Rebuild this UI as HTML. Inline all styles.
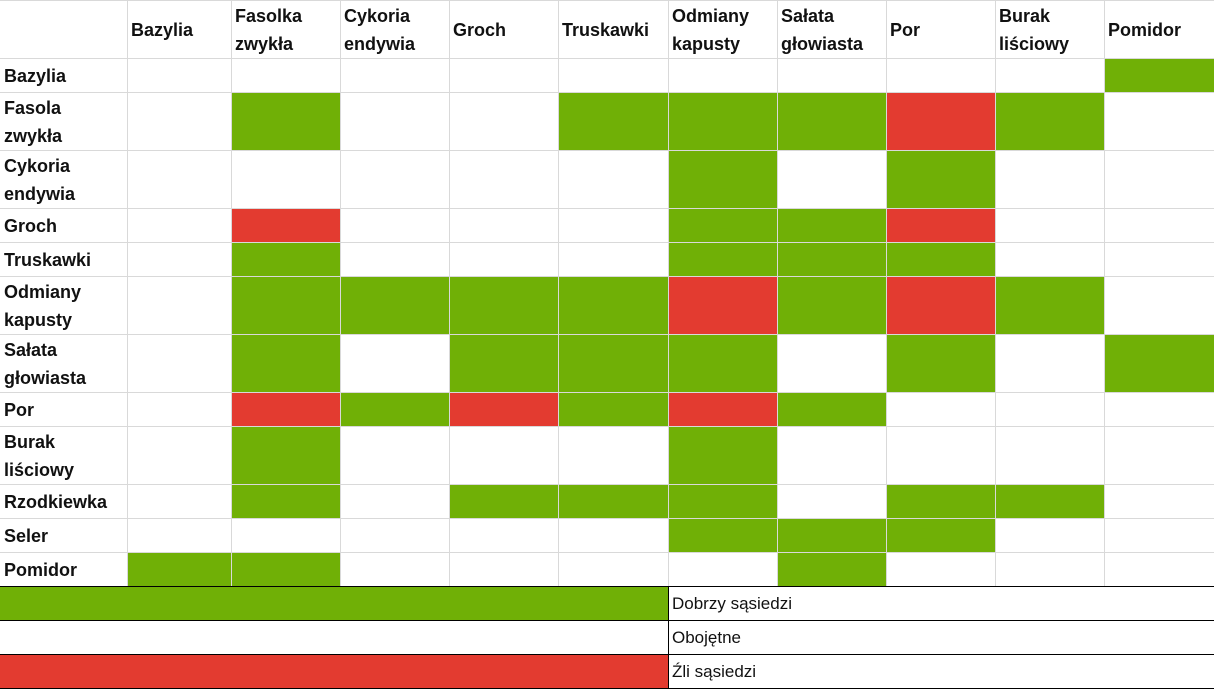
<!DOCTYPE html><html><head><meta charset="utf-8"><style>
body{margin:0;width:1214px;height:690px;overflow:hidden;background:#fff;font-family:"Liberation Sans",sans-serif}
.grid{position:absolute;left:0;top:0;width:1214px;height:585px;padding-top:1px;background:#d9d9d9;display:grid;gap:1px;
grid-template-columns:127px 103px 108px 108px 108px 109px 108px 108px 108px 108px 109px;
grid-template-rows:57px 33px 57px 57px 33px 33px 57px 57px 33px 57px 33px 33px 33px}
.grid div{background:#fff;display:flex;align-items:center;padding-left:3px;font-weight:bold;font-size:18px;line-height:28px;color:#111;white-space:nowrap;overflow:hidden}
.grid div.f{padding-left:4px}
.grid div.g{background:#70b006}.grid div.r{background:#e33b30}
.leg{position:absolute;left:0;width:1214px;height:34px;border-top:1px solid #000;box-sizing:border-box;background:#fff}
.leg div{position:absolute;left:0;top:0;width:668px;height:33px;border-right:1px solid #000}
.leg .g{background:#70b006}.leg .r{background:#e33b30}
.leg span{position:absolute;left:672px;top:7px;font-size:17px;color:#111}
</style></head><body>
<div class="grid">
<div></div><div>Bazylia</div><div>Fasolka<br>zwykła</div><div>Cykoria<br>endywia</div><div>Groch</div><div>Truskawki</div><div>Odmiany<br>kapusty</div><div>Sałata<br>głowiasta</div><div>Por</div><div>Burak<br>liściowy</div><div>Pomidor</div>
<div class="f">Bazylia</div><div></div><div></div><div></div><div></div><div></div><div></div><div></div><div></div><div></div><div class="g"></div>
<div class="f">Fasola<br>zwykła</div><div></div><div class="g"></div><div></div><div></div><div class="g"></div><div class="g"></div><div class="g"></div><div class="r"></div><div class="g"></div><div></div>
<div class="f">Cykoria<br>endywia</div><div></div><div></div><div></div><div></div><div></div><div class="g"></div><div></div><div class="g"></div><div></div><div></div>
<div class="f">Groch</div><div></div><div class="r"></div><div></div><div></div><div></div><div class="g"></div><div class="g"></div><div class="r"></div><div></div><div></div>
<div class="f">Truskawki</div><div></div><div class="g"></div><div></div><div></div><div></div><div class="g"></div><div class="g"></div><div class="g"></div><div></div><div></div>
<div class="f">Odmiany<br>kapusty</div><div></div><div class="g"></div><div class="g"></div><div class="g"></div><div class="g"></div><div class="r"></div><div class="g"></div><div class="r"></div><div class="g"></div><div></div>
<div class="f">Sałata<br>głowiasta</div><div></div><div class="g"></div><div></div><div class="g"></div><div class="g"></div><div class="g"></div><div></div><div class="g"></div><div></div><div class="g"></div>
<div class="f">Por</div><div></div><div class="r"></div><div class="g"></div><div class="r"></div><div class="g"></div><div class="r"></div><div class="g"></div><div></div><div></div><div></div>
<div class="f">Burak<br>liściowy</div><div></div><div class="g"></div><div></div><div></div><div></div><div class="g"></div><div></div><div></div><div></div><div></div>
<div class="f">Rzodkiewka</div><div></div><div class="g"></div><div></div><div class="g"></div><div class="g"></div><div class="g"></div><div></div><div class="g"></div><div class="g"></div><div></div>
<div class="f">Seler</div><div></div><div></div><div></div><div></div><div></div><div class="g"></div><div class="g"></div><div class="g"></div><div></div><div></div>
<div class="f">Pomidor</div><div class="g"></div><div class="g"></div><div></div><div></div><div></div><div></div><div class="g"></div><div></div><div></div><div></div>
</div>
<div class="leg" style="top:586px"><div class="g"></div><span>Dobrzy sąsiedzi</span></div>
<div class="leg" style="top:620px"><div></div><span>Obojętne</span></div>
<div class="leg" style="top:654px;border-bottom:1px solid #000;height:35px"><div class="r"></div><span>Źli sąsiedzi</span></div>
</body></html>
